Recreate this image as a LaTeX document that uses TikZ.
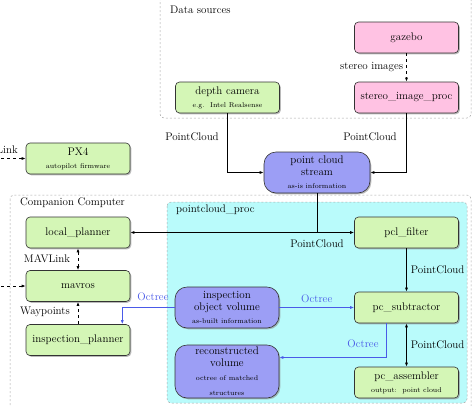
\documentclass[tikz,border=0pt]{standalone}
\usepackage{mathpazo}
\usetikzlibrary{shadows,arrows.meta,positioning}
\definecolor{boxgreen}{HTML}{D4F6B6}
\definecolor{boxpink}{HTML}{FFC2E3}
\definecolor{boxblue}{HTML}{9C9EF5}
\definecolor{areacyan}{HTML}{B9FBFB}
\definecolor{octblue}{HTML}{4A5AE8}
\newcommand{\subtxt}[1]{{\fontsize{7}{8}\selectfont\itshape #1}}
\begin{document}
\begin{tikzpicture}[x=1pt,y=-1pt,
  font=\fontsize{11}{12}\selectfont,
  nbox/.style={draw=black!80, line width=0.6pt, rounded corners=4pt,
    minimum width=104pt, minimum height=31pt, align=center, inner sep=1pt,
    drop shadow={shadow xshift=1.3pt,shadow yshift=-1.3pt,fill=black!45,opacity=0.6}},
  gbox/.style={nbox, fill=boxgreen},
  pbox/.style={nbox, fill=boxpink},
  bbox/.style={nbox, fill=boxblue, rounded corners=12pt},
  conn/.style={line width=0.9pt, -{Latex[length=4pt,width=3pt]}},
  dconn/.style={line width=0.9pt, dashed, -{Latex[length=4pt,width=3pt]}},
  bconn/.style={line width=0.9pt, draw=octblue, -{Latex[length=4pt,width=3pt]}},
  area/.style={draw=black!35, line width=0.5pt, dash pattern=on 2pt off 2pt, rounded corners=4pt},
  lbl/.style={inner sep=1pt},
  blbl/.style={inner sep=1pt, text=octblue}
]
\useasboundingbox (0,0) rectangle (474,405);
% containers
\draw[area] (160,-10) rectangle (471,118);
\draw[area] (10,195) rectangle (471,412);
\draw[area, fill=areacyan] (167,202) rectangle (467,403);
\node[lbl, anchor=west] (tds) at (169,10) {Data sources};
\node[lbl, anchor=west] (tcc) at (19,203) {Companion Computer};
\node[lbl, anchor=west] (tpp) at (175,210) {pointcloud\_proc};

% nodes
\node[pbox] (gazebo) at (406.5,37.5) {gazebo};
\node[pbox] (stereo) at (406.5,97.5) {stereo\_image\_proc};
\node[gbox] (depth) at (227.5,97.5) {depth camera\\[1pt]\subtxt{e.g.\ \ Intel Realsense}};
\node[bbox, minimum width=106pt, minimum height=41pt] (stream) at (317,172.5) {point cloud\\stream\\[1pt]\subtxt{as-is information}};
\node[gbox] (px4) at (78,158.5) {PX4\\[1pt]\subtxt{autopilot firmware}};
\node[gbox] (local) at (78,232.5) {local\_planner};
\node[gbox] (mavros) at (78,286) {mavros};
\node[gbox] (inspplan) at (78,340) {inspection\_planner};
\node[gbox] (pcl) at (406.5,232.5) {pcl\_filter};
\node[gbox] (sub) at (406.5,307.5) {pc\_subtractor};
\node[gbox] (asm) at (406.5,382.5) {pc\_assembler\\[1pt]\subtxt{output:\ \ point cloud}};
\node[bbox, minimum height=41pt] (insp) at (227,307.5) {inspection\\object volume\\[1pt]\subtxt{as-built information}};
\node[bbox, minimum height=53pt] (recon) at (227,371.5) {reconstructed\\volume\\[2pt]\subtxt{octree of matched}\\[3pt]\subtxt{structures}};

% coordinates
\coordinate (j) at (stream.south |- pcl.west);
\coordinate (pxin) at (-5,158.5);
\coordinate (mvin) at (-5,286);

% connectors
\draw[dconn] (gazebo.south) -- node[lbl, left=2pt] (tsi) {stereo images} (stereo.north);
\draw[conn] (depth.south) |- (stream.west);
\draw[conn] (stereo.south) |- (stream.east);
\node[lbl] (tpc1) at (192,137) {PointCloud};
\node[lbl] (tpc2) at (370,137) {PointCloud};
\draw[line width=0.9pt] (stream.south) -- (j);
\draw[conn] (j) -- (local.east);
\draw[conn] (j) -- (pcl.west);
\node[lbl] (tpc3) at (317,244) {PointCloud};
\draw[conn] (pcl.south) -- node[lbl, right=3pt] (tpc4) {PointCloud} (sub.north);
\draw[line width=0.9pt, {Latex[length=4pt,width=3pt]}-{Latex[length=4pt,width=3pt]}] (sub.south) -- node[lbl, right=3pt] (tpc5) {PointCloud} (asm.north);
\draw[bconn] (insp.east) -- node[blbl, above=3pt] (to1) {Octree} (sub.west);
\draw[bconn] (insp.west) -| ([xshift=-8pt]inspplan.north east);
\node[blbl] (to2) at (153,297) {Octree};
\draw[bconn] ([xshift=-20pt]sub.south) |- ([yshift=14pt]recon.east);
\node[blbl] (to3) at (363,344) {Octree};
\draw[line width=0.9pt, dashed, {Latex[length=4pt,width=3pt]}-{Latex[length=4pt,width=3pt]}] (local.south) -- (mavros.north);
\node[lbl] (tml) at (47,259) {MAVLink};
\draw[dconn] (inspplan.north) -- (mavros.south);
\node[lbl] (twp) at (45,312) {Waypoints};
\draw[dconn] (mvin) -- (mavros.west);
\draw[dconn] (pxin) -- (px4.west);
\node[lbl, anchor=east] (tml2) at (19,150) {MAVLink};
\end{tikzpicture}
\end{document}
